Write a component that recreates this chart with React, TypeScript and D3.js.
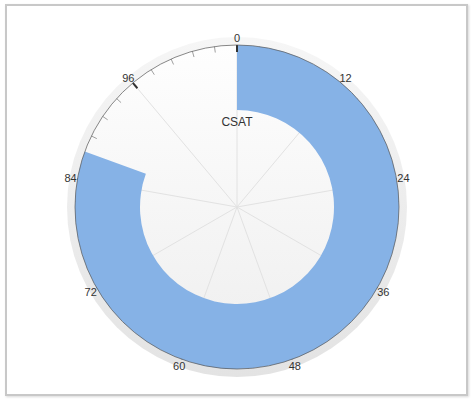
import React from 'react'
import * as d3 from 'd3'

// gauge values
const seriesName = 'CSAT'
const seriesValue = [87]
const scaleMax = 108
const tickLabels = [0, 12, 24, 36, 48, 60, 72, 84, 96]

const width = 474
const height = 402
const cx = 237
const cy = 207
const rOuter = 162
const rInner = 97
const rRing = 170

const App = () => {
	const angle = d3
		.scaleLinear()
		.domain([0, scaleMax])
		.range([0, 2 * Math.PI])

	const minorTicks = d3.range(0, scaleMax, 2.4)

	const arc = d3
		.arc<number>()
		.innerRadius(rInner)
		.outerRadius(rOuter)
		.startAngle(angle(0))
		.endAngle((d) => angle(d))

	const pt = (v: number, r: number) => {
		const a = angle(v)
		return [cx + r * Math.sin(a), cy - r * Math.cos(a)]
	}

	return (
		<svg
			width={width}
			height={height}
			style={{ position: 'absolute', left: 0, top: 0 }}
			fontFamily="'Liberation Sans', Arial, sans-serif"
		>
			<defs>
				<linearGradient id="ring" x1="0" y1="0" x2="0" y2="1">
					<stop offset="0%" stopColor="#f6f6f6" />
					<stop offset="100%" stopColor="#e3e3e3" />
				</linearGradient>
				<linearGradient id="plot" x1="0" y1="0" x2="0" y2="1">
					<stop offset="0%" stopColor="#fefefe" />
					<stop offset="100%" stopColor="#eeeeee" />
				</linearGradient>
				<filter id="shadow" x="-5%" y="-5%" width="110%" height="110%">
					<feDropShadow dx="1" dy="1" stdDeviation="1" floodColor="#000" floodOpacity="0.15" />
				</filter>
			</defs>
			<rect x={0} y={0} width={width} height={height} fill="#fff" />
			<rect
				x={6}
				y={5}
				width={461}
				height={390}
				fill="#fff"
				stroke="#c8c8c8"
				strokeWidth={2}
				filter="url(#shadow)"
			/>
			<circle cx={cx} cy={cy} r={rRing} fill="url(#ring)" />
			<circle cx={cx} cy={cy} r={rOuter} fill="url(#plot)" />
			{tickLabels.map((t) => {
				const [x2, y2] = pt(t, rOuter)
				return (
					<line key={'g' + t} x1={cx} y1={cy} x2={x2} y2={y2} stroke="#e2e2e2" strokeWidth={1} />
				)
			})}
			{minorTicks.map((t, i) => {
				const major = i % 5 === 0
				const [x1, y1] = pt(t, rOuter)
				const [x2, y2] = pt(t, rOuter - (major ? 7 : 6))
				return (
					<line
						key={'t' + i}
						x1={x1}
						y1={y1}
						x2={x2}
						y2={y2}
						stroke={major ? '#333' : '#a0a0a0'}
						strokeWidth={major ? 2 : 1}
					/>
				)
			})}
			{seriesValue.map((v, i) => (
				<path key={i} d={arc(v) || ''} transform={`translate(${cx},${cy})`} fill="#86b2e6" />
			))}
			<line x1={cx} y1={cy - rOuter} x2={cx} y2={cy - rOuter + 7} stroke="#333" strokeWidth={2} />
			<circle cx={cx} cy={cy} r={rOuter} fill="none" stroke="#555" strokeWidth={1} strokeOpacity={0.7} />
			{tickLabels.map((t) => {
				const [x, y] = pt(t, 169)
				return (
					<text
						key={'l' + t}
						x={x}
						y={y}
						textAnchor="middle"
						dominantBaseline="central"
						fontSize={11}
						fill="#333"
					>
						{t}
					</text>
				)
			})}
			<text x={cx} y={cy - 85} textAnchor="middle" dominantBaseline="central" fontSize={12} fill="#333">
				{seriesName}
			</text>
		</svg>
	)
}

export default App
